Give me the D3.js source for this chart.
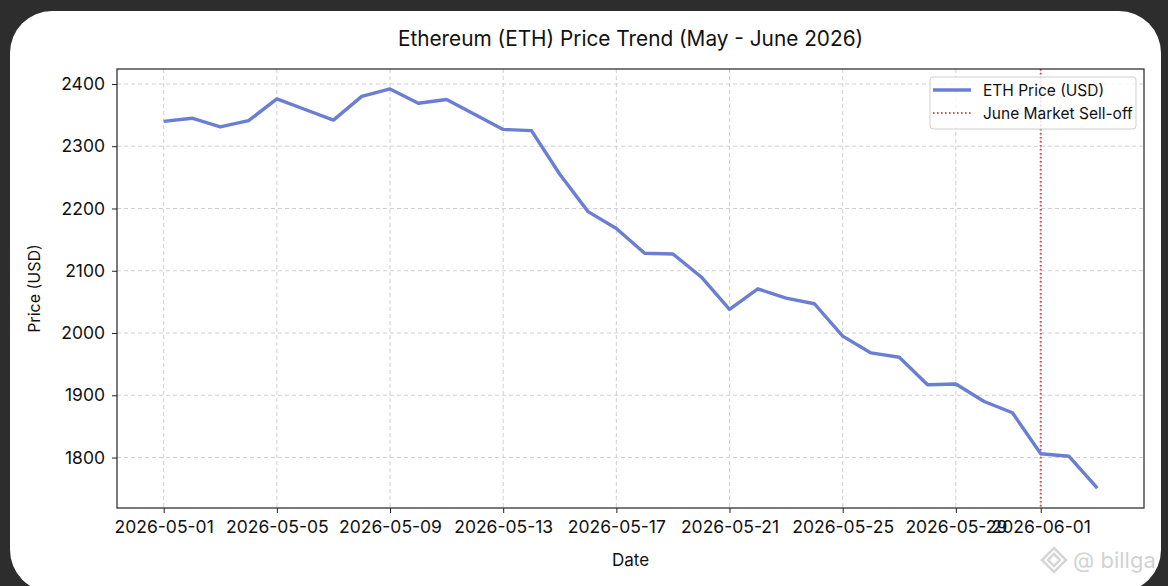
<!DOCTYPE html>
<html>
<head>
<meta charset="utf-8">
<script src="https://cdn.jsdelivr.net/npm/d3@7/dist/d3.min.js"></script>
<style>
  html, body { margin: 0; padding: 0; background: #2d2d2d; }
  svg { display: block; }
  text { font-family: "Inter", "Open Sans", sans-serif; fill: #111; }
</style>
</head>
<body>
<svg id="chart" width="1168" height="586"></svg>
<script>
const dates = ["2026-05-01","2026-05-02","2026-05-03","2026-05-04","2026-05-05","2026-05-06","2026-05-07","2026-05-08","2026-05-09","2026-05-10","2026-05-11","2026-05-12","2026-05-13","2026-05-14","2026-05-15","2026-05-16","2026-05-17","2026-05-18","2026-05-19","2026-05-20","2026-05-21","2026-05-22","2026-05-23","2026-05-24","2026-05-25","2026-05-26","2026-05-27","2026-05-28","2026-05-29","2026-05-30","2026-05-31","2026-06-01","2026-06-02","2026-06-03"];
const prices = [2340,2345,2331,2341,2376,2359,2342,2380,2392,2369,2375,2351,2327,2325,2255,2195,2168,2128,2127,2090,2038,2071,2056,2047,1995,1968,1961,1917,1918,1890,1872,1806,1802,1751];
const xTickLabels = ["2026-05-01","2026-05-05","2026-05-09","2026-05-13","2026-05-17","2026-05-21","2026-05-25","2026-05-29","2026-06-01"];
const yTicks = [1800,1900,2000,2100,2200,2300,2400];
const selloffDate = "2026-06-01";
const titleText = "Ethereum (ETH) Price Trend (May - June 2026)";
const seriesName = "ETH Price (USD)";
const markerName = "June Market Sell-off";
const watermarkText = "@ billga";

const parse = d3.utcParse("%Y-%m-%d");
const data = dates.map((d, i) => ({ date: parse(d), price: prices[i] }));

const svg = d3.select("#chart");
const m = { left: 117, right: 1144, top: 69, bottom: 508 };
const FONT = '"Inter", "Open Sans", sans-serif';

// card
const card = { x: 10, y: 11, w: 1151, h: 581, r: 42 };
svg.append("defs").append("clipPath").attr("id", "card")
  .append("rect").attr("x", card.x).attr("y", card.y).attr("width", card.w).attr("height", card.h).attr("rx", card.r);
svg.append("rect").attr("x", card.x).attr("y", card.y).attr("width", card.w).attr("height", card.h).attr("rx", card.r).attr("fill", "#fff");

// scales with matplotlib-like 5% margins
const xExt = d3.extent(data, d => d.date);
const xSpan = xExt[1] - xExt[0];
const x = d3.scaleUtc()
  .domain([new Date(+xExt[0] - xSpan * 0.05), new Date(+xExt[1] + xSpan * 0.05)])
  .range([m.left, m.right]);
const yExt = d3.extent(prices);
const ySpan = yExt[1] - yExt[0];
const y = d3.scaleLinear()
  .domain([yExt[0] - ySpan * 0.05, yExt[1] + ySpan * 0.05])
  .range([m.bottom, m.top]);

const xTicks = xTickLabels.map(parse);

// grid
const grid = svg.append("g");
grid.selectAll(".gx").data(xTicks).enter().append("line")
  .attr("x1", d => x(d)).attr("x2", d => x(d))
  .attr("y1", m.top).attr("y2", m.bottom)
  .attr("stroke", "#d0d0d0").attr("stroke-width", 1).attr("stroke-dasharray", "4,3");
grid.selectAll(".gy").data(yTicks).enter().append("line")
  .attr("x1", m.left).attr("x2", m.right)
  .attr("y1", d => y(d)).attr("y2", d => y(d))
  .attr("stroke", "#d0d0d0").attr("stroke-width", 1).attr("stroke-dasharray", "4,3");

// sell-off line
svg.append("line")
  .attr("x1", x(parse(selloffDate))).attr("x2", x(parse(selloffDate)))
  .attr("y1", m.top).attr("y2", m.bottom)
  .attr("stroke", "#c9504c").attr("stroke-width", 2).attr("stroke-dasharray", "1.5,2.5");

// price line
const line = d3.line().x(d => x(d.date)).y(d => y(d.price));
svg.append("path").datum(data)
  .attr("d", line).attr("fill", "none")
  .attr("stroke", "#6a7fd4").attr("stroke-width", 3.4)
  .attr("stroke-linejoin", "round").attr("stroke-linecap", "butt");

// axes
const xAxis = d3.axisBottom(x).tickValues(xTicks).tickFormat(d3.utcFormat("%Y-%m-%d")).tickSize(5).tickPadding(5);
const yAxis = d3.axisLeft(y).tickValues(yTicks).tickFormat(d3.format("d")).tickSize(5).tickPadding(7);
const gx = svg.append("g").attr("transform", `translate(0,${m.bottom})`).call(xAxis);
const gy = svg.append("g").attr("transform", `translate(${m.left},0)`).call(yAxis);
[gx, gy].forEach(g => {
  g.select(".domain").remove();
  g.selectAll(".tick line").attr("stroke", "#222").attr("stroke-width", 1);
  g.selectAll(".tick text").style("font-size", "17.5px").attr("fill", "#111")
    .style("font-family", FONT);
});
gx.selectAll(".tick text").attr("dy", "0.85em");

// frame
svg.append("rect").attr("x", m.left).attr("y", m.top)
  .attr("width", m.right - m.left).attr("height", m.bottom - m.top)
  .attr("fill", "none").attr("stroke", "#222").attr("stroke-width", 1.2);

// title and labels
svg.append("text").attr("x", (m.left + m.right) / 2).attr("y", 46)
  .attr("text-anchor", "middle").style("font-size", "20.8px").text(titleText);
svg.append("text").attr("x", (m.left + m.right) / 2).attr("y", 566)
  .attr("text-anchor", "middle").style("font-size", "17px").text("Date");
svg.append("text").attr("transform", `translate(40,${(m.top + m.bottom) / 2}) rotate(-90)`)
  .attr("text-anchor", "middle").style("font-size", "16px").text("Price (USD)");

// legend
const lg = svg.append("g").attr("transform", "translate(930,77)");
lg.append("rect").attr("width", 206).attr("height", 52).attr("rx", 3)
  .attr("fill", "rgba(255,255,255,0.8)").attr("stroke", "#cfcfcf").attr("stroke-width", 1);
lg.append("line").attr("x1", 3).attr("x2", 41).attr("y1", 13).attr("y2", 13)
  .attr("stroke", "#6a7fd4").attr("stroke-width", 3.4);
lg.append("line").attr("x1", 3).attr("x2", 41).attr("y1", 36).attr("y2", 36)
  .attr("stroke", "#c9504c").attr("stroke-width", 2).attr("stroke-dasharray", "1.5,2.5");
lg.append("text").attr("x", 53).attr("y", 18.5).style("font-size", "15.5px").text(seriesName);
lg.append("text").attr("x", 53).attr("y", 41.5).style("font-size", "15.5px").text(markerName);

// watermark
const wm = svg.append("g").attr("clip-path", "url(#card)");
wm.append("path").attr("d", "M1054,548 L1066,560 L1054,572 L1042,560 Z M1054,554 L1060,560 L1054,566 L1048,560 Z")
  .attr("fill", "none").attr("stroke", "#d6d6d6").attr("stroke-width", 2.5);
wm.append("text").attr("x", 1073).attr("y", 568).style("font-size", "22px")
  .style("fill", "#d2d2d2").text(watermarkText);
</script>
</body>
</html>
